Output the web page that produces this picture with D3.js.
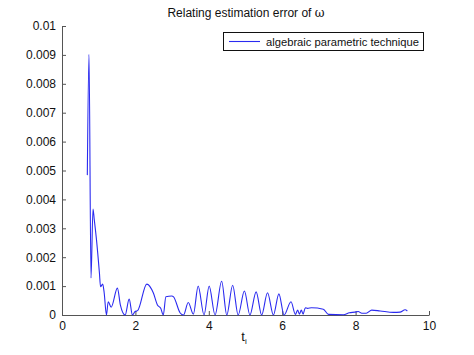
<!DOCTYPE html>
<html>
<head>
<meta charset="utf-8">
<script src="https://cdn.jsdelivr.net/npm/d3@7"></script>
<style>
  body { margin: 0; background: #fff; }
  text { font-family: "Liberation Sans", Arial, Helvetica, sans-serif; fill: #111; }
</style>
</head>
<body>
<div id="chart"></div>
<script>
// values (t, error)
var tValues = [0.69, 0.736, 0.79, 0.845, 0.88, 0.94, 1.02, 1.05, 1.11, 1.15, 1.21, 1.26, 1.34, 1.51, 1.59, 1.72, 1.83, 1.92, 1.99, 2.06,
    2.31, 2.49, 2.60, 2.69, 2.76, 2.83, 2.99, 3.04, 3.22, 3.31, 3.44, 3.58, 3.71, 3.87, 4.01, 4.17, 4.35, 4.49, 4.65, 4.80,
    4.97, 5.12, 5.29, 5.44, 5.60, 5.76, 5.91, 6.05, 6.24, 6.36, 6.42, 6.47, 6.52, 6.57, 6.63, 6.69, 6.80, 7.12, 7.26, 7.67,
    7.83, 7.98, 8.07, 8.17, 8.29, 8.44, 8.67, 9.03, 9.21, 9.35, 9.41];
var errValues = [0.00484, 0.00902, 0.00128, 0.00367, 0.00329, 0.0026, 0.00145, 0.00098, 0.00107, 0.00076, 0, 0.00046, 0.00027, 0.00093, 0.00035, 0, 0.00055, 0, 0.00012, 0.00015,
    0.00107, 0.00076, 0.00035, 0.00023, 0, 0.00063, 0.00066, 0.00063, 0.00007, 0, 0.00043, 0.00003, 0.00100, 0, 0.00100, 0, 0.00117, 0, 0.00103, 0,
    0.00083, 0, 0.00080, 0, 0.00077, 0, 0.00073, 0, 0.00046, 0.00002, 0.00017, 0.00003, 0.00017, 0.00003, 0.00025, 0.00023, 0.00025, 0.00020, 0.00002, 0.00001,
    0.00008, 0.00010, 0.00012, 0.00006, 0.00006, 0.00017, 0.00014, 0.00009, 0.00010, 0.00018, 0.00014];
var xTicks = [0, 2, 4, 6, 8, 10];
var yTicks = [0, 0.001, 0.002, 0.003, 0.004, 0.005, 0.006, 0.007, 0.008, 0.009, 0.01];

var width = 474, height = 355;
var margin = {left: 62, right: 45, top: 26, bottom: 40};

var svg = d3.select("#chart").append("svg")
    .attr("width", width)
    .attr("height", height);

var x = d3.scaleLinear().domain([0, 10]).range([margin.left, width - margin.right]);
var y = d3.scaleLinear().domain([0, 0.01]).range([height - margin.bottom, margin.top]);

var data = tValues.map(function(t, i) { return {t: t, e: errValues[i]}; });

// axes, ticks pointing inwards like matlab
var xAxis = d3.axisBottom(x).tickValues(xTicks).tickSizeInner(-4).tickSizeOuter(0).tickPadding(6);
var yAxis = d3.axisLeft(y).tickValues(yTicks).tickSizeInner(-4).tickSizeOuter(0).tickPadding(6)
    .tickFormat(function(d) { return d3.format("")(+d.toFixed(3)); });

var gx = svg.append("g")
    .attr("transform", "translate(0," + y(0) + ")")
    .call(xAxis);
var gy = svg.append("g")
    .attr("transform", "translate(" + x(0) + ",0)")
    .call(yAxis);

[gx, gy].forEach(function(g) {
    g.select(".domain").attr("stroke", "#555");
    g.selectAll(".tick line").attr("stroke", "#555");
    g.selectAll(".tick text").style("font-size", "12px").attr("fill", "#111")
        .style("font-family", "'Liberation Sans', Arial, sans-serif");
});

var line = d3.line()
    .x(function(d) { return x(d.t); })
    .y(function(d) { return y(d.e); })
    .curve(d3.curveMonotoneX);

svg.append("path")
    .datum(data)
    .attr("fill", "none")
    .attr("stroke", "#2a2af0")
    .attr("stroke-width", 1.1)
    .attr("d", line);

// title
var title = svg.append("text")
    .attr("x", 246)
    .attr("y", 17)
    .attr("text-anchor", "middle")
    .style("font-size", "12px");
title.append("tspan").text("Relating estimation error of ");
title.append("tspan").style("font-family", "'DejaVu Serif', serif").text("\u03c9");

// x label
var xl = svg.append("text")
    .attr("x", 244)
    .attr("y", 341)
    .attr("text-anchor", "middle")
    .style("font-size", "13px");
xl.append("tspan").text("t");
xl.append("tspan").attr("dy", 3).style("font-size", "8px").text("i");

// legend
var lg = svg.append("g");
lg.append("rect")
    .attr("x", 223.5).attr("y", 32.5)
    .attr("width", 200).attr("height", 18)
    .attr("fill", "#fff").attr("stroke", "#111").attr("stroke-width", 1);
lg.append("line")
    .attr("x1", 229).attr("x2", 260)
    .attr("y1", 41.5).attr("y2", 41.5)
    .attr("stroke", "#2a2af0").attr("stroke-width", 1.1);
lg.append("text")
    .attr("x", 266).attr("y", 45.5)
    .style("font-size", "11px")
    .attr("textLength", 153)
    .attr("lengthAdjust", "spacingAndGlyphs")
    .text("algebraic parametric technique");
</script>
</body>
</html>
